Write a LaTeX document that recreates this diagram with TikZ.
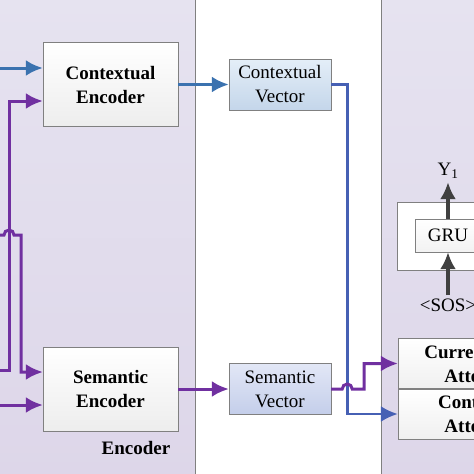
\documentclass[tikz,border=0pt]{standalone}
\usepackage{xcolor}
\usepackage{fontspec}
\setmainfont{Liberation Serif}
\usepackage{tikz}
\usetikzlibrary{arrows.meta}

\definecolor{edge}{RGB}{128,128,128}
\definecolor{paneltop}{RGB}{230,227,240}
\definecolor{panelbot}{RGB}{221,214,233}
\definecolor{blueline}{RGB}{59,114,175}
\definecolor{ctxline}{RGB}{70,96,180}
\definecolor{purpline}{RGB}{112,48,160}
\definecolor{cvtop}{RGB}{228,238,248}
\definecolor{cvbot}{RGB}{196,214,234}
\definecolor{svtop}{RGB}{226,231,246}
\definecolor{svbot}{RGB}{196,206,234}

\begin{document}
\begin{tikzpicture}[x=1pt,y=-1pt,
	font=\fontsize{19}{24}\selectfont,
	enc/.style={draw=edge,top color=white,bottom color=gray!14,minimum width=135pt,minimum height=84pt,align=center,font=\fontsize{19}{24}\selectfont\bfseries},
	vec/.style={draw=edge,minimum width=102pt,minimum height=51pt,align=center},
	att/.style={draw=edge,top color=white,bottom color=gray!12,minimum width=170pt,minimum height=50pt,align=center,font=\fontsize{19}{24}\selectfont\bfseries},
	bluearr/.style={blueline,line width=3pt,-{Latex[length=17pt,width=16pt]}},
	ctxarr/.style={ctxline,line width=2.6pt,-{Latex[length=17pt,width=16pt]}},
	purparr/.style={purpline,line width=3pt,-{Latex[length=17pt,width=16pt]}},
	grayarr/.style={black!75,line width=3.5pt,-{Latex[length=17pt,width=16pt]}}]
			
			\clip (0,0) rectangle (474,474);
			
			% panels
			\draw[edge,top color=paneltop,bottom color=panelbot] (-5,-5) rectangle (195,480);
			\draw[edge,top color=paneltop,bottom color=panelbot] (381,-5) rectangle (480,480);
			
			% encoder side
			\node[enc] (cenc) at (110.5,84.5) {Contextual\\Encoder};
			\node[enc] (senc) at (110.5,389) {Semantic\\Encoder};
			\node[font=\fontsize{19}{24}\selectfont\bfseries] (enclabel) at (136,448) {Encoder};
			
			\node[vec,top color=cvtop,bottom color=cvbot] (cvec) at (280,84.5) {Contextual\\Vector};
			\node[vec,top color=svtop,bottom color=svbot] (svec) at (280,389) {Semantic\\Vector};
			
			% decoder side
			\node[draw=edge,fill=white,minimum width=102pt,minimum height=68pt] (grubox) at (448,236) {};
			\node[draw=edge,top color=white,bottom color=gray!10,minimum width=66pt,minimum height=33pt] (gru) at (448,235.5) {GRU};
			\node (y1) at (448,171) {Y\textsubscript{1}};
			\node (sos) at (448,305) {\textless SOS\textgreater};
			
			\node[att] (cur) at (483,363.5) {Current Word\\Attention};
			\node[att] (con) at (483,414) {Contextual\\Attention};
			
			% inputs
			\coordinate (inA) at (-5,68);
			\coordinate (inB) at (-5,370);
			\coordinate (inC) at (-5,235);
			\coordinate (inD) at (-5,405);
			
			\draw[bluearr] (inA) -- (inA -| cenc.west);
			\draw[purparr] (inB) -- (9,370) |- ([yshift=-16.5pt]cenc.west);
			\draw[purparr] (inC) -- (4,235) arc[start angle=180,end angle=0,radius=5pt] -- (21,235) |- ([yshift=17pt]senc.west);
			\draw[purparr] (inD) -- (inD -| senc.west);
			
			\draw[bluearr] (cenc) -- (cvec);
			\draw[purparr] (senc) -- (svec);
			
			\draw[ctxarr] (cvec.east) -- ++(16,0) |- (con.west);
			\draw[purparr] (svec.east) -- ++(11,0) arc[start angle=180,end angle=0,radius=5pt] -- ++(12,0) |- (cur.west);
			
			\draw[grayarr] (sos) -- (gru);
			\draw[grayarr] (gru) -- (y1);
			
		\end{tikzpicture}
\end{document}
